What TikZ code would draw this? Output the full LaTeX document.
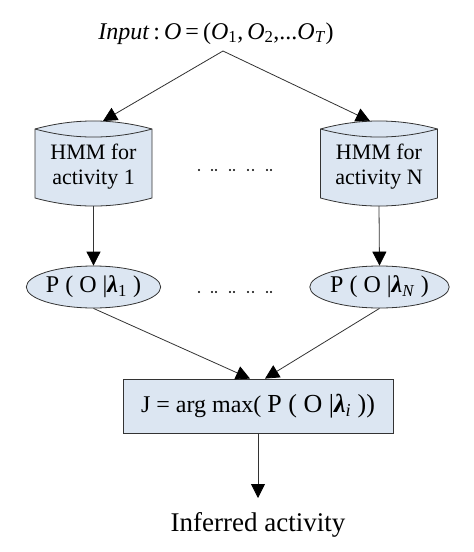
\documentclass[tikz,border=0pt]{standalone}
\usepackage{fontspec}
\setmainfont{Liberation Serif}
\usetikzlibrary{arrows.meta,shapes.geometric,calc}
\definecolor{fillc}{HTML}{DCE6F2}
\definecolor{linec}{HTML}{333333}
\newcommand{\lam}{\textbf{\textit{λ}}}
\begin{document}
\begin{tikzpicture}[x=1pt,y=-1pt,
  conn/.style={draw=linec,line width=0.8pt,-{Triangle[length=14pt,width=14pt,fill=black,color=black]}},
  shapeline/.style={draw=linec,line width=0.8pt,fill=fillc},
  cyltext/.style={font=\fontsize{22}{25}\selectfont,align=center,inner sep=0pt},
  ell/.style={ellipse,shapeline,minimum width=128pt,minimum height=42pt,inner sep=0pt,font=\fontsize{24}{28}\selectfont},
  dotc/.style={fill=black,draw=none}]
\useasboundingbox (0,0) rectangle (474,552);

% input text
\node[inner sep=0pt,anchor=base,font=\fontsize{24}{28}\selectfont] (inp) at (216,39)
  {\textit{Input}\,:\,\textit{O}\,=\,(\textit{O}\textsubscript{1},\,\textit{O}\textsubscript{2},...\textit{O}\textsubscript{\textit{T}})};
\coordinate (apex) at (223,51);

% cylinders
\foreach \n/\cx in {1/93.5,N/379}{
  \path[shapeline] (\cx-58.5,129) .. controls (\cx-19.5,118.3) and (\cx+19.5,118.3) .. (\cx+58.5,129)
     -- (\cx+58.5,198) .. controls (\cx+19.5,208.7) and (\cx-19.5,208.7) .. (\cx-58.5,198) -- cycle;
  \draw[draw=linec,line width=0.8pt] (\cx-58.5,129) .. controls (\cx-19.5,139.7) and (\cx+19.5,139.7) .. (\cx+58.5,129);
}
\node[cyltext] (h1) at (93.5,167) {HMM for\\activity 1};
\node[cyltext] (hN) at (379,167) {HMM for\\activity N};
\coordinate (t1) at (103,121);
\coordinate (tN) at (370,121);
\coordinate (b1) at (93.5,206);
\coordinate (bN) at (379,206);

% ellipses
\node[ell] (e1) at (93.5,287) {P ( O |\lam\textsubscript{1} )};
\node[ell] (eN) at (379.5,287) {P ( O |\lam\textsubscript{\textit{N}} )};

% box
\node[shapeline,minimum width=270pt,minimum height=54pt,inner sep=0pt,font=\fontsize{24}{28}\selectfont] (box) at (258,406)
  {J = arg max( {\fontsize{26}{28}\selectfont P ( O |\lam\textsubscript{\textit{i}} ))}};

% output
\node[inner sep=0pt,anchor=base,font=\fontsize{27}{30}\selectfont] (out) at (258,531) {Inferred activity};
\coordinate (otip) at (258,498);

% dots
\foreach \y in {170,292}{
  \foreach \x in {199,212,216,230,234,248,253,267,271}{
    \fill[dotc] (\x,\y) circle (1.2pt);
  }
}

% connectors
\draw[conn] (apex) -- (t1);
\draw[conn] (apex) -- (tN);
\draw[conn] (b1) -- (e1.north);
\draw[conn] (bN) -- (eN.north);
\draw[conn] (e1.south) -- ([xshift=-8pt]box.north);
\draw[conn] (eN.south) -- ([xshift=7pt]box.north);
\draw[conn] (box.south) -- (otip);
\end{tikzpicture}
\end{document}
